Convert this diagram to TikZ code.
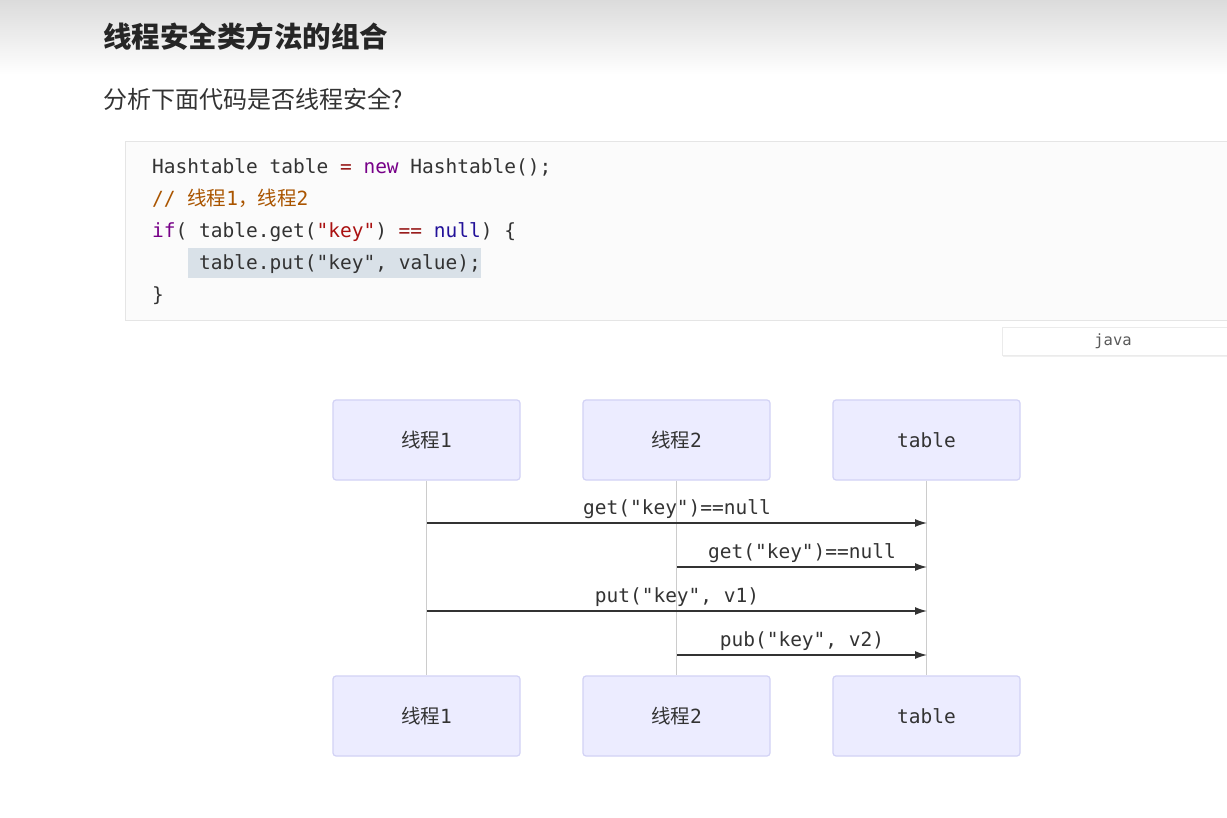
\documentclass[tikz,border=0pt]{standalone}
\usepackage{fontspec}
\setmainfont{Noto Sans CJK SC}
\newfontfamily\cjk{Noto Sans CJK SC}
\setmonofont{DejaVu Sans Mono}
\usetikzlibrary{arrows.meta}
\definecolor{kw}{HTML}{770088}
\definecolor{str}{HTML}{AA1111}
\definecolor{op}{HTML}{981A1A}
\definecolor{atom}{HTML}{221199}
\definecolor{cmt}{HTML}{AA5500}
\definecolor{boxfill}{HTML}{ECECFF}
\definecolor{boxline}{HTML}{D2D2F5}
\definecolor{txt}{HTML}{333333}
\tikzset{
  actor/.style={draw=boxline, fill=boxfill, line width=1.2pt, rounded corners=3pt,
    minimum width=187pt, minimum height=80pt, inner sep=0pt, text=txt,
    font=\fontsize{19.5}{22}\selectfont},
  life/.style={draw=black!20, line width=1pt},
  msg/.style={draw=txt, line width=1.3pt, -{Latex[length=12pt,width=8pt]}},
  msglabel/.style={font=\ttfamily\fontsize{19.5}{22}\selectfont, text=txt, inner sep=0pt},
  codeline/.style={anchor=base west, inner sep=0pt, font=\ttfamily\fontsize{19.5}{22}\selectfont, text=txt}
}
\begin{document}
\begin{tikzpicture}[x=1pt,y=-1pt]
\useasboundingbox (0,0) rectangle (1227,818);
\fill[white] (0,0) rectangle (1227,818);
\shade[top color=black!14, bottom color=white] (0,0) rectangle (1227,75);
% title
\node[anchor=base west, inner sep=0pt, text=black!85, font=\cjk\bfseries\fontsize{28.5}{31}\selectfont] (title) at (103,48) {线程安全类方法的组合};
\node[anchor=base west, inner sep=0pt, text=black!80, font=\cjk\fontsize{24}{27}\selectfont] (sub) at (103,109) {分析下面代码是否线程安全?};
% code block
\draw[draw=black!10, fill=black!1.5, line width=1pt] (125,142) rectangle (1235,321);
\fill[fill={rgb,255:red,217;green,225;blue,232}] (188,248) rectangle (481,278);
\node[codeline] (c1) at (152,174) {Hashtable table \textcolor{op}{=} \textcolor{kw}{new} Hashtable();};
\node[codeline] (c2) at (152,206) {\textcolor{cmt}{// {\cjk 线程}1{\cjk ，线程}2}};
\node[codeline] (c3) at (152,238) {\textcolor{kw}{if}( table.get(\textcolor{str}{"key"}) \textcolor{op}{==} \textcolor{atom}{null}) \{};
\node[codeline] (c4) at (199,270) {table.put("key", value);};
\node[codeline] (c5) at (152,302) {\}};
% java label
\fill[black!6] (1003,329) rectangle (1229,357);
\draw[draw=black!8, fill=white] (1002,327) rectangle (1227,355);
\node[inner sep=0pt, text=black!65, font=\ttfamily\fontsize{15.5}{17}\selectfont] (java) at (1113,341) {java};
% actors
\node[actor] (a1) at (426.5,440) {{\cjk 线程}\texttt{1}};
\node[actor] (a2) at (676.5,440) {{\cjk 线程}\texttt{2}};
\node[actor] (a3) at (926.5,440) {\texttt{table}};
\node[actor] (b1) at (426.5,716) {{\cjk 线程}\texttt{1}};
\node[actor] (b2) at (676.5,716) {{\cjk 线程}\texttt{2}};
\node[actor] (b3) at (926.5,716) {\texttt{table}};
% lifelines
\draw[life] (a1.south) -- (b1.north);
\draw[life] (a2.south) -- (b2.north);
\draw[life] (a3.south) -- (b3.north);
% messages
\coordinate (s1) at (427,523); \coordinate (e1) at (927,523);
\coordinate (s2) at (677,567); \coordinate (e2) at (927,567);
\coordinate (s3) at (427,611); \coordinate (e3) at (927,611);
\coordinate (s4) at (677,655); \coordinate (e4) at (927,655);
\draw[msg] (s1) -- (e1);
\draw[msg] (s2) -- (e2);
\draw[msg] (s3) -- (e3);
\draw[msg] (s4) -- (e4);
\node[msglabel] (l1) at (677,509) {get("key")==null};
\node[msglabel] (l2) at (802,553) {get("key")==null};
\node[msglabel] (l3) at (677,597) {put("key", v1)};
\node[msglabel] (l4) at (802,641) {pub("key", v2)};
\end{tikzpicture}
\end{document}
